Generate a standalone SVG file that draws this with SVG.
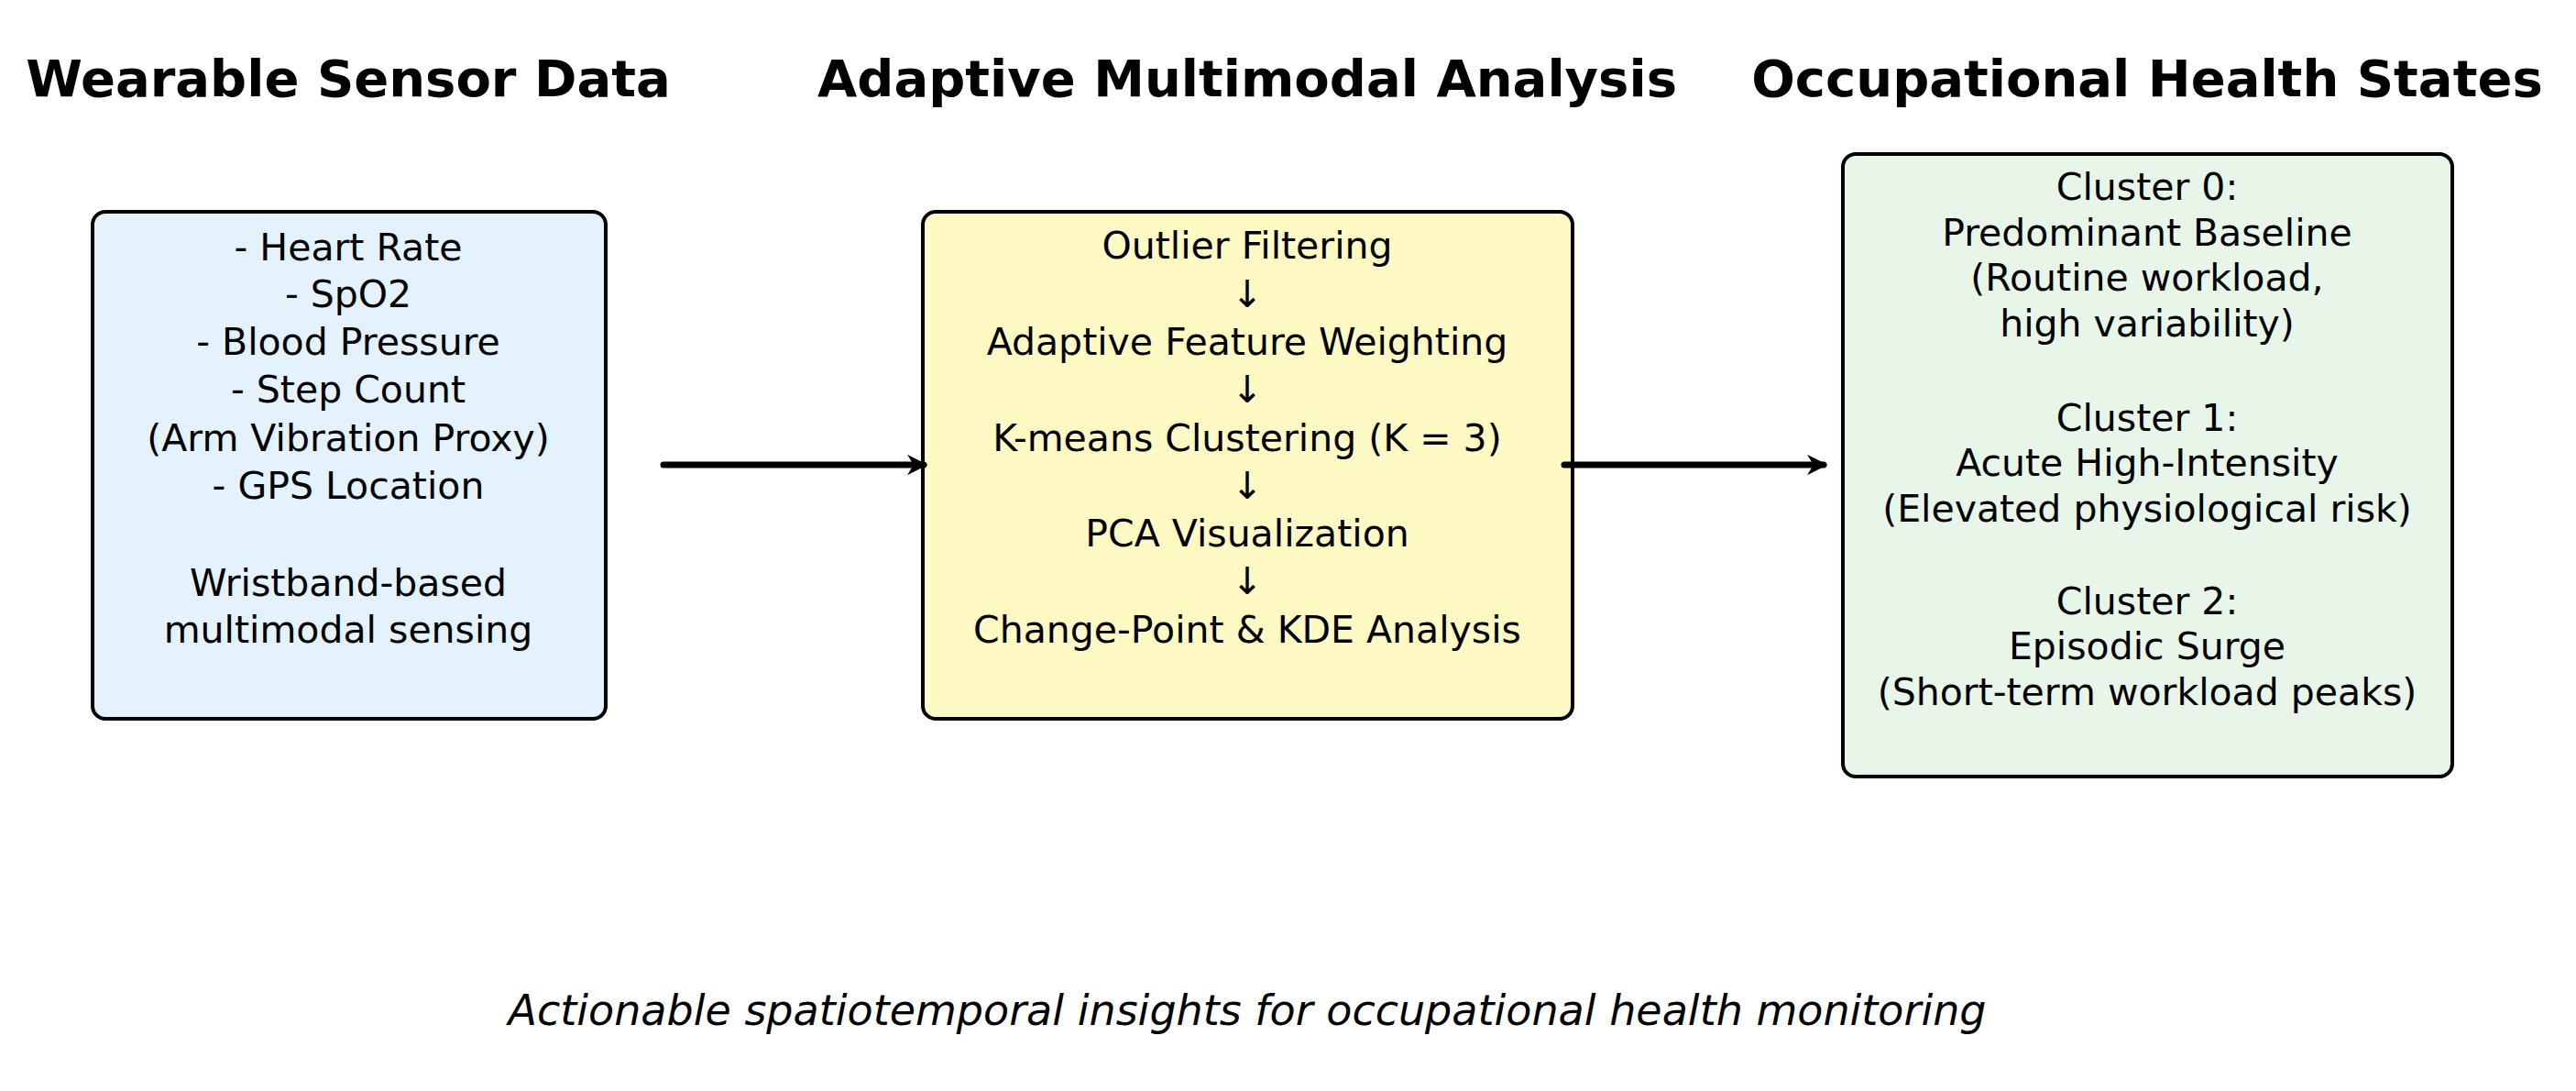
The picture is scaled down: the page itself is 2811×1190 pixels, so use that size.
<svg xmlns="http://www.w3.org/2000/svg" width="2811" height="1190" viewBox="0 0 2811 1190">
<style>
.t{font-family:"DejaVu Sans",sans-serif;font-weight:bold;font-size:56px;text-anchor:middle}
.b{font-family:"DejaVu Sans",sans-serif;font-size:41px;text-anchor:middle}
.box{stroke:#000;stroke-width:4}
.c{stroke:#000;stroke-width:7;stroke-linecap:round;fill:none}
</style>
<defs><marker id="ah" viewBox="0 0 10 10" refX="8" refY="5" markerWidth="3.2" markerHeight="3.2" orient="auto"><path d="M0,0 L10,5 L0,10 L3,5 Z" fill="#000"/></marker></defs>
<rect width="2811" height="1190" fill="#fff"/>
<text class="t" x="380" y="105">Wearable Sensor Data</text>
<text class="t" x="1361" y="105">Adaptive Multimodal Analysis</text>
<text class="t" x="2343" y="105">Occupational Health States</text>
<g id="sensor">
<rect class="box" x="101" y="231" width="560" height="553" rx="14" fill="#e3f2fd"/>
<text class="b" x="380" y="284">- Heart Rate</text>
<text class="b" x="380" y="335">- SpO2</text>
<text class="b" x="380" y="387">- Blood Pressure</text>
<text class="b" x="380" y="439">- Step Count</text>
<text class="b" x="380" y="492">(Arm Vibration Proxy)</text>
<text class="b" x="380" y="544">- GPS Location</text>
<text class="b" x="380" y="650">Wristband-based</text>
<text class="b" x="380" y="701">multimodal sensing</text>
</g>
<g id="analysis">
<rect class="box" x="1007" y="231" width="709" height="553" rx="14" fill="#fff9c4"/>
<text class="b" x="1361" y="282">Outlier Filtering</text>
<text class="b" x="1361" y="335">↓</text>
<text class="b" x="1361" y="387">Adaptive Feature Weighting</text>
<text class="b" x="1361" y="439">↓</text>
<text class="b" x="1361" y="492">K-means Clustering (K = 3)</text>
<text class="b" x="1361" y="544">↓</text>
<text class="b" x="1361" y="596">PCA Visualization</text>
<text class="b" x="1361" y="648">↓</text>
<text class="b" x="1361" y="701">Change-Point &amp; KDE Analysis</text>
</g>
<g id="states">
<rect class="box" x="2011" y="168" width="665" height="679" rx="14" fill="#e8f5e9"/>
<text class="b" x="2343" y="218">Cluster 0:</text>
<text class="b" x="2343" y="268">Predominant Baseline</text>
<text class="b" x="2343" y="317">(Routine workload,</text>
<text class="b" x="2343" y="367">high variability)</text>
<text class="b" x="2343" y="470">Cluster 1:</text>
<text class="b" x="2343" y="519">Acute High-Intensity</text>
<text class="b" x="2343" y="569">(Elevated physiological risk)</text>
<text class="b" x="2343" y="670">Cluster 2:</text>
<text class="b" x="2343" y="719">Episodic Surge</text>
<text class="b" x="2343" y="769">(Short-term workload peaks)</text>
</g>
<g id="connectors">
<line class="c" x1="724" y1="507" x2="1008" y2="507" marker-end="url(#ah)"/>
<line class="c" x1="1707" y1="507" x2="1990" y2="507" marker-end="url(#ah)"/>
</g>
<text x="1361" y="1118" font-family="DejaVu Sans,sans-serif" font-style="italic" font-size="46" text-anchor="middle">Actionable spatiotemporal insights for occupational health monitoring</text>
</svg>
